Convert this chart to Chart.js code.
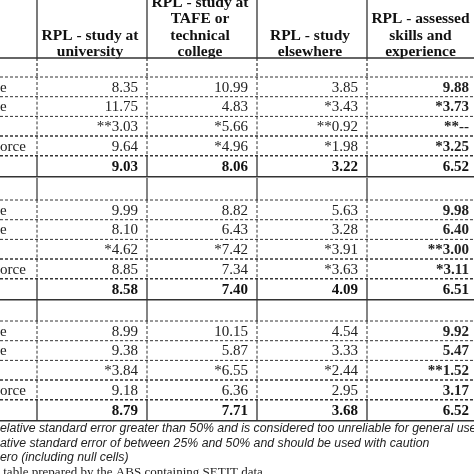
<!DOCTYPE html>
<html><head><meta charset="utf-8">
<script src="https://cdn.jsdelivr.net/npm/chart.js@4"></script>
<style>html,body{margin:0;padding:0;background:#fff}canvas{display:block}</style>
</head><body>
<canvas id="c" width="474" height="474" style="width:474px;height:474px"></canvas>
<script>
const headers = [
  ["RPL - study at", "university"],
  ["RPL - study at", "TAFE or", "technical", "college"],
  ["RPL - study", "elsewhere"],
  ["RPL - assessed", "skills and", "experience"]
];
const rowLabels = ["e", "e", "", "orce"];
const section1 = [["8.35","10.99","3.85","9.88"],["11.75","4.83","*3.43","*3.73"],["**3.03","*5.66","**0.92","**--"],["9.64","*4.96","*1.98","*3.25"]];
const total1 = ["9.03","8.06","3.22","6.52"];
const section2 = [["9.99","8.82","5.63","9.98"],["8.10","6.43","3.28","6.40"],["*4.62","*7.42","*3.91","**3.00"],["8.85","7.34","*3.63","*3.11"]];
const total2 = ["8.58","7.40","4.09","6.51"];
const section3 = [["8.99","10.15","4.54","9.92"],["9.38","5.87","3.33","5.47"],["*3.84","*6.55","*2.44","**1.52"],["9.18","6.36","2.95","3.17"]];
const total3 = ["8.79","7.71","3.68","6.52"];
const footnotes = [
  ["elative standard error greater than 50% and is considered too unreliable for general use", "sans"],
  ["ative standard error of between 25% and 50% and should be used with caution", "sans"],
  ["ero (including null cells)", "sans"],
  [" table prepared by the ABS containing SETIT data", "serif"]
];
const sections = [section1, section2, section3];
const totals = [total1, total2, total3];

const colEdges = [37, 147, 257, 367, 478];
const headerBottom = 58;
const sectionTops = [58, 178, 300];
const blankH = [19, 22, 21];
const rowH = 19.7;

const tablePlugin = {
  id: 'table',
  afterDraw(chart) {
    const ctx = chart.ctx, X = chart.scales.x, Y = chart.scales.y;
    const px = v => X.getPixelForValue(v), py = v => Y.getPixelForValue(v);
    const line = (x1,y1,x2,y2,dash,w,col) => {
      ctx.save(); ctx.beginPath(); ctx.setLineDash(dash?[3,2]:[]);
      ctx.lineWidth = w||1; ctx.strokeStyle = col||'#333';
      ctx.moveTo(px(x1),py(y1)); ctx.lineTo(px(x2),py(y2)); ctx.stroke(); ctx.restore();
    };
    ctx.fillStyle = '#111'; ctx.textAlign='center'; ctx.textBaseline='middle';
    ctx.font = 'bold 15.5px "Liberation Serif"';
    headers.forEach((h,i) => {
      const cx = (colEdges[i]+colEdges[i+1])/2 - 2;
      h.forEach((t,j) => ctx.fillText(t, px(cx), py(headerBottom - 6 - (h.length-1-j)*16.3)));
    });
    colEdges.slice(0,4).forEach(x => line(x,0,x,headerBottom,false,1.3));
    line(0,headerBottom,474,headerBottom,false,1.3);

    sections.forEach((sec,s) => {
      const top = sectionTops[s];
      const bt = top + blankH[s];
      colEdges.slice(0,4).forEach(x => line(x,top,x,bt,s===0,1.2));
      line(0,bt,474,bt,true,1);
      sec.forEach((row,r) => {
        const y0 = bt + r*rowH, y1 = y0 + rowH;
        colEdges.slice(0,4).forEach(x => line(x,y0,x,y1,true,1));
        line(0,y1,474,y1,true, r===2||r===3 ? 1.5 : 1);
        ctx.textBaseline='middle';
        ctx.font = '15px "Liberation Serif"'; ctx.textAlign='left'; ctx.fillStyle='#222';
        ctx.fillText(rowLabels[r], px(0), py(y0+rowH/2+1));
        row.forEach((v,c) => {
          ctx.textAlign='right';
          ctx.font = (c===3?'bold ':'') + '15px "Liberation Serif"';
          ctx.fillText(v, px(colEdges[c+1]-9), py(y0+rowH/2+1));
        });
      });
      const ty0 = bt + 4*rowH, ty1 = ty0 + 21;
      colEdges.slice(0,4).forEach(x => line(x,ty0,x,ty1,false,1.3));
      line(0,ty1,474,ty1,false,1.4);
      ctx.font = 'bold 15px "Liberation Serif"'; ctx.textAlign='right'; ctx.fillStyle='#111';
      totals[s].forEach((v,c) => ctx.fillText(v, px(colEdges[c+1]-9), py(ty0+11)));
    });
    ctx.textAlign='left'; ctx.fillStyle='#222';
    footnotes.forEach((f,i) => {
      ctx.font = f[1]==='sans' ? 'italic 12.3px "Liberation Sans"' : '13px "Liberation Serif"';
      ctx.fillText(f[0], px(0), py(429 + i*14.5));
    });
  }
};

new Chart(document.getElementById('c'), {
  type: 'scatter',
  data: { datasets: [{ data: [] }] },
  options: {
    responsive: false, animation: false,
    layout: { padding: 0 },
    plugins: { legend: { display: false }, tooltip: { enabled: false } },
    scales: {
      x: { type: 'linear', min: 0, max: 474, display: false },
      y: { type: 'linear', min: 0, max: 474, reverse: true, display: false }
    }
  },
  plugins: [tablePlugin]
});
</script>
</body></html>
